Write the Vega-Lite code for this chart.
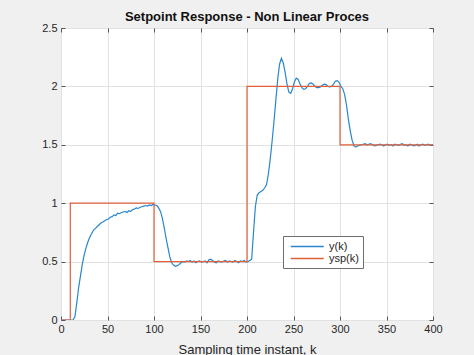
{
  "$schema": "https://vega.github.io/schema/vega-lite/v6.json",
  "autosize": "none",
  "padding": {"left": 61, "top": 28, "right": 41, "bottom": 35},
  "width": 372,
  "height": 292,
  "background": "#f0f0f0",
  "config": {
    "view": {"fill": "white", "stroke": "#7a7a7a", "strokeWidth": 1},
    "font": "Liberation Sans",
    "axis": {
      "labelFont": "Liberation Sans", "labelFontSize": 11, "labelColor": "#262626",
      "tickColor": "#555555", "tickSize": -4, "domain": false, "labelFlush": false,
      "gridColor": "#e2e2e2", "gridWidth": 1,
      "titleFont": "Liberation Sans", "titleFontSize": 13, "titleFontWeight": "normal", "titleColor": "#262626"
    }
  },
  "title": {"text": "Setpoint Response - Non Linear Proces", "font": "Liberation Sans", "fontSize": 13, "fontWeight": "bold", "color": "#111111", "offset": -2},
  "datasets": {
    "y": [
      {"k":0,"v":0},{"k":5,"v":0},{"k":10,"v":0},{"k":13,"v":0},{"k":15,"v":0.03},{"k":17,"v":0.15},{"k":19,"v":0.28},{"k":21,"v":0.38},{"k":23,"v":0.48},{"k":25,"v":0.56},{"k":27,"v":0.62},{"k":29,"v":0.67},{"k":31,"v":0.71},{"k":33,"v":0.74},{"k":35,"v":0.77},{"k":37,"v":0.785},{"k":39,"v":0.8},{"k":41,"v":0.815},{"k":43,"v":0.83},{"k":45,"v":0.84},{"k":47,"v":0.85},{"k":49,"v":0.86},{"k":51,"v":0.865},{"k":53,"v":0.88},{"k":55,"v":0.885},{"k":57,"v":0.9},{"k":59,"v":0.895},{"k":61,"v":0.915},{"k":63,"v":0.91},{"k":65,"v":0.92},{"k":67,"v":0.925},{"k":69,"v":0.93},{"k":71,"v":0.92},{"k":73,"v":0.935},{"k":75,"v":0.93},{"k":77,"v":0.945},{"k":79,"v":0.95},{"k":81,"v":0.96},{"k":83,"v":0.955},{"k":85,"v":0.965},{"k":87,"v":0.97},{"k":89,"v":0.975},{"k":91,"v":0.98},{"k":93,"v":0.975},{"k":95,"v":0.985},{"k":97,"v":0.98},{"k":99,"v":0.99},{"k":101,"v":0.985},{"k":103,"v":0.98},{"k":105,"v":0.96},{"k":107,"v":0.93},{"k":109,"v":0.87},{"k":111,"v":0.79},{"k":113,"v":0.7},{"k":115,"v":0.62},{"k":117,"v":0.54},{"k":119,"v":0.49},{"k":121,"v":0.47},{"k":123,"v":0.46},{"k":125,"v":0.465},{"k":127,"v":0.475},{"k":129,"v":0.49},{"k":131,"v":0.5},{"k":133,"v":0.495},{"k":135,"v":0.505},{"k":137,"v":0.5},{"k":139,"v":0.51},{"k":141,"v":0.495},{"k":143,"v":0.505},{"k":145,"v":0.49},{"k":147,"v":0.5},{"k":149,"v":0.505},{"k":151,"v":0.495},{"k":153,"v":0.5},{"k":155,"v":0.505},{"k":157,"v":0.49},{"k":159,"v":0.515},{"k":161,"v":0.52},{"k":163,"v":0.51},{"k":165,"v":0.495},{"k":167,"v":0.49},{"k":169,"v":0.505},{"k":171,"v":0.5},{"k":173,"v":0.495},{"k":175,"v":0.505},{"k":177,"v":0.51},{"k":179,"v":0.495},{"k":181,"v":0.505},{"k":183,"v":0.5},{"k":185,"v":0.495},{"k":187,"v":0.51},{"k":189,"v":0.5},{"k":191,"v":0.49},{"k":193,"v":0.505},{"k":195,"v":0.5},{"k":197,"v":0.51},{"k":199,"v":0.495},{"k":201,"v":0.5},{"k":203,"v":0.51},{"k":205,"v":0.52},{"k":207,"v":0.75},{"k":209,"v":0.97},{"k":211,"v":1.07},{"k":213,"v":1.09},{"k":215,"v":1.1},{"k":217,"v":1.11},{"k":219,"v":1.13},{"k":221,"v":1.16},{"k":223,"v":1.25},{"k":225,"v":1.38},{"k":227,"v":1.53},{"k":229,"v":1.7},{"k":231,"v":1.88},{"k":233,"v":2.06},{"k":235,"v":2.19},{"k":237,"v":2.24},{"k":239,"v":2.2},{"k":241,"v":2.12},{"k":243,"v":2.02},{"k":245,"v":1.95},{"k":247,"v":1.94},{"k":249,"v":1.98},{"k":251,"v":2.04},{"k":253,"v":2.07},{"k":255,"v":2.06},{"k":257,"v":2.02},{"k":259,"v":1.99},{"k":261,"v":1.975},{"k":263,"v":1.98},{"k":265,"v":2.0},{"k":267,"v":2.025},{"k":269,"v":2.03},{"k":271,"v":2.02},{"k":273,"v":2.0},{"k":275,"v":1.99},{"k":277,"v":1.99},{"k":279,"v":1.995},{"k":281,"v":2.01},{"k":283,"v":2.02},{"k":285,"v":2.015},{"k":287,"v":2.0},{"k":289,"v":1.995},{"k":291,"v":2.0},{"k":293,"v":2.02},{"k":295,"v":2.045},{"k":297,"v":2.05},{"k":299,"v":2.035},{"k":301,"v":2.0},{"k":303,"v":1.98},{"k":305,"v":1.93},{"k":307,"v":1.84},{"k":309,"v":1.72},{"k":311,"v":1.62},{"k":313,"v":1.54},{"k":315,"v":1.49},{"k":317,"v":1.48},{"k":319,"v":1.49},{"k":321,"v":1.495},{"k":323,"v":1.5},{"k":325,"v":1.505},{"k":327,"v":1.51},{"k":329,"v":1.5},{"k":331,"v":1.505},{"k":333,"v":1.51},{"k":335,"v":1.5},{"k":337,"v":1.49},{"k":339,"v":1.495},{"k":341,"v":1.5},{"k":343,"v":1.505},{"k":345,"v":1.5},{"k":347,"v":1.49},{"k":349,"v":1.5},{"k":351,"v":1.505},{"k":353,"v":1.495},{"k":355,"v":1.5},{"k":357,"v":1.49},{"k":359,"v":1.505},{"k":361,"v":1.5},{"k":363,"v":1.495},{"k":365,"v":1.505},{"k":367,"v":1.51},{"k":369,"v":1.495},{"k":371,"v":1.5},{"k":373,"v":1.49},{"k":375,"v":1.505},{"k":377,"v":1.5},{"k":379,"v":1.49},{"k":381,"v":1.495},{"k":383,"v":1.505},{"k":385,"v":1.49},{"k":387,"v":1.5},{"k":389,"v":1.505},{"k":391,"v":1.495},{"k":393,"v":1.5},{"k":395,"v":1.505},{"k":397,"v":1.495},{"k":399,"v":1.5},{"k":400,"v":1.5}
    ],
    "sp": [
      {"i":0,"k":0,"v":0},{"i":1,"k":10,"v":0},{"i":2,"k":10,"v":1},{"i":3,"k":100,"v":1},{"i":4,"k":100,"v":0.5},{"i":5,"k":200,"v":0.5},{"i":6,"k":200,"v":2},{"i":7,"k":300,"v":2},{"i":8,"k":300,"v":1.5},{"i":9,"k":400,"v":1.5}
    ]
  },
  "layer": [
    {
      "data": {"name": "y"},
      "transform": [{"calculate": "'y(k)'", "as": "s"}],
      "mark": {"type": "line", "strokeWidth": 1.2, "clip": true},
      "encoding": {
        "x": {"field": "k", "type": "quantitative", "scale": {"domain": [0, 400], "nice": false},
              "axis": {"values": [0,50,100,150,200,250,300,350,400], "title": "Sampling time instant, k", "labelPadding": 7, "titlePadding": 9}},
        "y": {"field": "v", "type": "quantitative", "scale": {"domain": [0, 2.5], "nice": false},
              "axis": {"values": [0,0.5,1,1.5,2,2.5], "format": "~g", "title": null, "labelPadding": 8}},
        "color": {"field": "s", "type": "nominal",
                  "scale": {"domain": ["y(k)", "ysp(k)"], "range": ["#2a86cc", "#e0603a"]},
                  "legend": {"orient": "none", "legendX": 222, "legendY": 208, "title": null,
                             "symbolType": "M-0.5,0H5.5", "symbolSize": 121, "symbolStrokeWidth": 1.5,
                             "labelFont": "Liberation Sans", "labelFontSize": 11, "labelColor": "#262626",
                             "strokeColor": "#6e6e6e", "fillColor": "white", "padding": 4, "rowPadding": 0, "labelOffset": 29}}
      }
    },
    {
      "data": {"name": "sp"},
      "transform": [{"calculate": "'ysp(k)'", "as": "s"}],
      "mark": {"type": "line", "strokeWidth": 1.2, "clip": true},
      "encoding": {
        "x": {"field": "k", "type": "quantitative", "scale": {"domain": [0, 400], "nice": false},
              "axis": {"orient": "top", "values": [0,50,100,150,200,250,300,350,400], "labels": false, "grid": false, "title": null}},
        "y": {"field": "v", "type": "quantitative", "scale": {"domain": [0, 2.5], "nice": false},
              "axis": {"orient": "right", "values": [0,0.5,1,1.5,2,2.5], "labels": false, "grid": false, "title": null}},
        "order": {"field": "i", "type": "quantitative"},
        "color": {"field": "s", "type": "nominal"}
      }
    }
  ],
  "resolve": {"axis": {"x": "independent", "y": "independent"}}
}
